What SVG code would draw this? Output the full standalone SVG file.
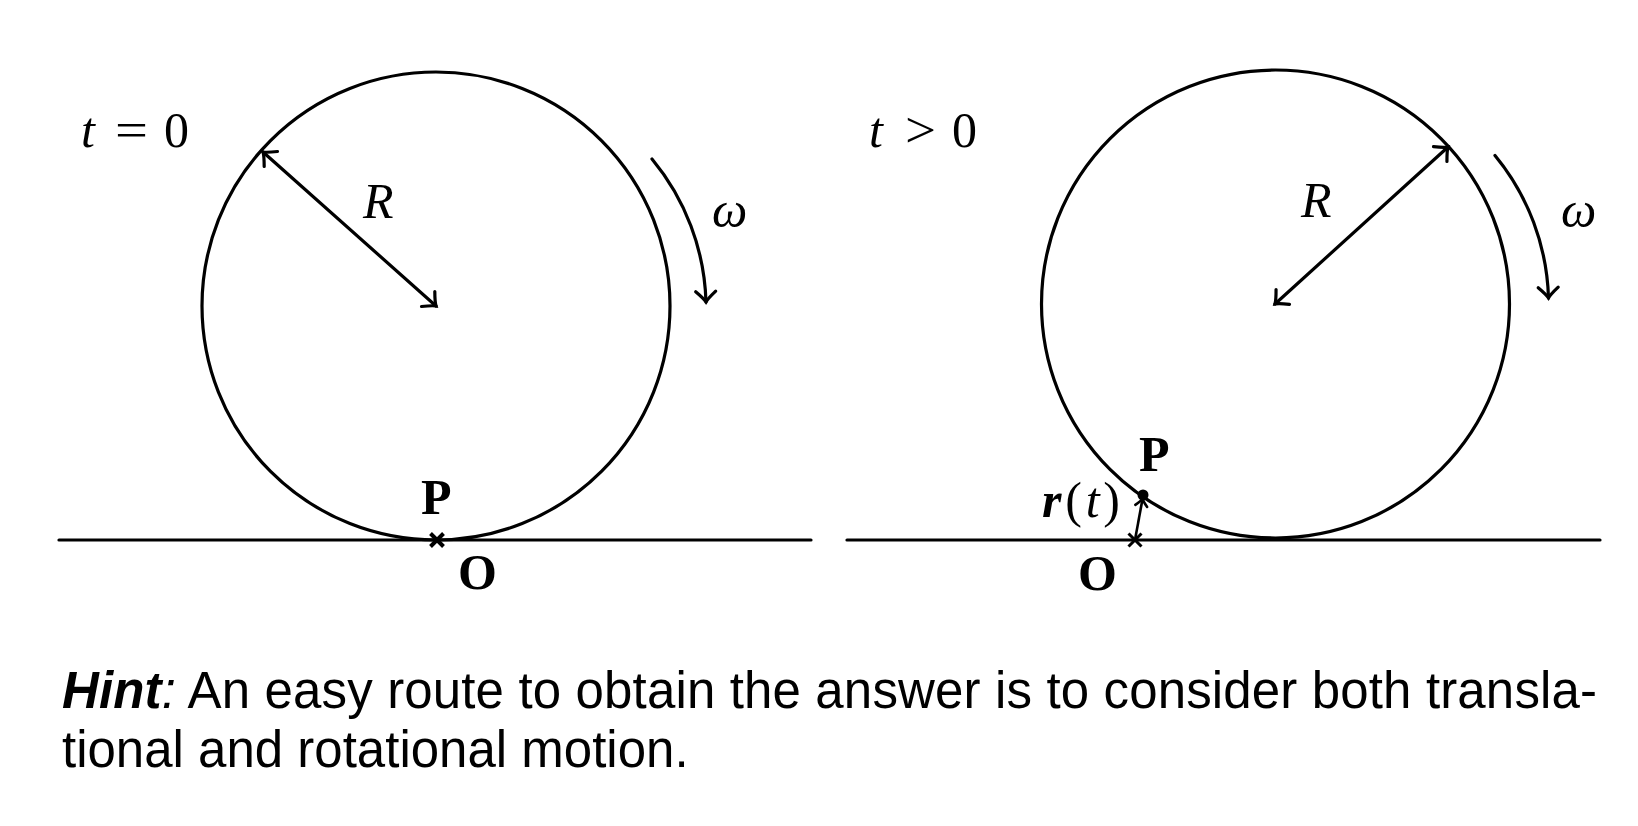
<svg xmlns="http://www.w3.org/2000/svg" width="1638" height="826" viewBox="0 0 1638 826">
<style>
.ln{fill:none;stroke:#000;stroke-width:3.2;stroke-linecap:round}
.thin{fill:none;stroke:#000;stroke-width:2.6}
.m{font-family:"Liberation Serif","DejaVu Serif",serif;font-size:50px;fill:#000}
.it{font-style:italic}
.bf{font-weight:bold}
.hint{font-family:"Liberation Sans",Arial,sans-serif;font-size:51px;fill:#000}
</style>
<defs>
<marker id="to" markerUnits="userSpaceOnUse" markerWidth="30" markerHeight="30" viewBox="-15 -15 30 30" refX="0" refY="0" orient="auto-start-reverse">
<path d="M -10.5 -10 C -6 -5 -2 -1.2 0 0 C -2 1.2 -6 5 -10.5 10" fill="none" stroke="#000" stroke-width="3.2" stroke-linecap="round"/>
</marker>
<marker id="tos" markerUnits="userSpaceOnUse" markerWidth="20" markerHeight="20" viewBox="-10 -10 20 20" refX="0" refY="0" orient="auto">
<path d="M -7 -6 C -4 -3 -1.5 -0.8 0 0 C -1.5 0.8 -4 3 -7 6" fill="none" stroke="#000" stroke-width="2.6" stroke-linecap="round"/>
</marker>
</defs>
<rect width="1638" height="826" fill="#fff"/>

<g id="left-scene">
<g id="ground-left"><line class="ln" x1="59" y1="540" x2="811" y2="540"/></g>
<g id="wheel-left"><circle class="ln" cx="436" cy="306" r="234"/></g>
<g id="label-t0">
<text class="m it" x="81" y="147">t</text>
<text class="m" x="115" y="147" textLength="33" lengthAdjust="spacingAndGlyphs">=</text>
<text class="m" x="164" y="147">0</text>
</g>
<g id="label-R-left"><text class="m it" x="363" y="218">R</text></g>
<g id="label-omega-left"><text class="m it" x="712" y="227">ω</text></g>
<g id="label-P-left"><text class="m bf" x="421" y="514">P</text></g>
<g id="label-O-left"><text class="m bf" x="458" y="589">O</text></g>
<g id="mark-O-left"><path d="M 430.5 533.5 L 443.5 546.5 M 443.5 533.5 L 430.5 546.5" stroke="#000" stroke-width="4" fill="none"/></g>
</g>

<g id="right-scene">
<g id="ground-right"><line class="ln" x1="847" y1="540" x2="1600" y2="540"/></g>
<g id="wheel-right"><circle class="ln" cx="1275.5" cy="304" r="234"/></g>
<g id="label-tgt0">
<text class="m it" x="869" y="147">t</text>
<text class="m" x="905" y="147" textLength="31" lengthAdjust="spacingAndGlyphs">&gt;</text>
<text class="m" x="952" y="147">0</text>
</g>
<g id="label-R-right"><text class="m it" x="1301" y="217">R</text></g>
<g id="label-omega-right"><text class="m it" x="1561" y="227">ω</text></g>
<g id="label-P-right"><text class="m bf" x="1139" y="471">P</text></g>
<g id="label-O-right"><text class="m bf" x="1078" y="590">O</text></g>
<g id="label-r"><text class="m" x="1042" y="517" textLength="78" lengthAdjust="spacing"><tspan class="bf it">r</tspan>(<tspan class="it">t</tspan>)</text></g>
<g id="point-P-right"><circle cx="1143" cy="495" r="5.5" fill="#000"/></g>
<g id="mark-O-right"><path d="M 1128.5 533.5 L 1141.5 546.5 M 1141.5 533.5 L 1128.5 546.5" stroke="#000" stroke-width="3" fill="none"/></g>
</g>

<g id="connectors">
<line class="ln" x1="436" y1="306" x2="263" y2="152" marker-start="url(#to)" marker-end="url(#to)"/>
<line class="ln" x1="1275" y1="304" x2="1448" y2="147" marker-start="url(#to)" marker-end="url(#to)"/>
<path class="ln" d="M 652 159 A 235 235 0 0 1 706 302" marker-end="url(#to)"/>
<path class="ln" d="M 1495 155.5 A 235 235 0 0 1 1548.5 298" marker-end="url(#to)"/>
<line class="thin" x1="1135" y1="540" x2="1142.5" y2="499" marker-end="url(#tos)"/>
</g>

<g id="hint">
<text class="hint" x="62" y="708" textLength="1535" lengthAdjust="spacing"><tspan font-weight="bold" font-style="italic">Hint</tspan><tspan font-style="italic">:</tspan> An easy route to obtain the answer is to consider both transla-</text>
<text class="hint" x="62" y="767">tional and rotational motion.</text>
</g>
</svg>
